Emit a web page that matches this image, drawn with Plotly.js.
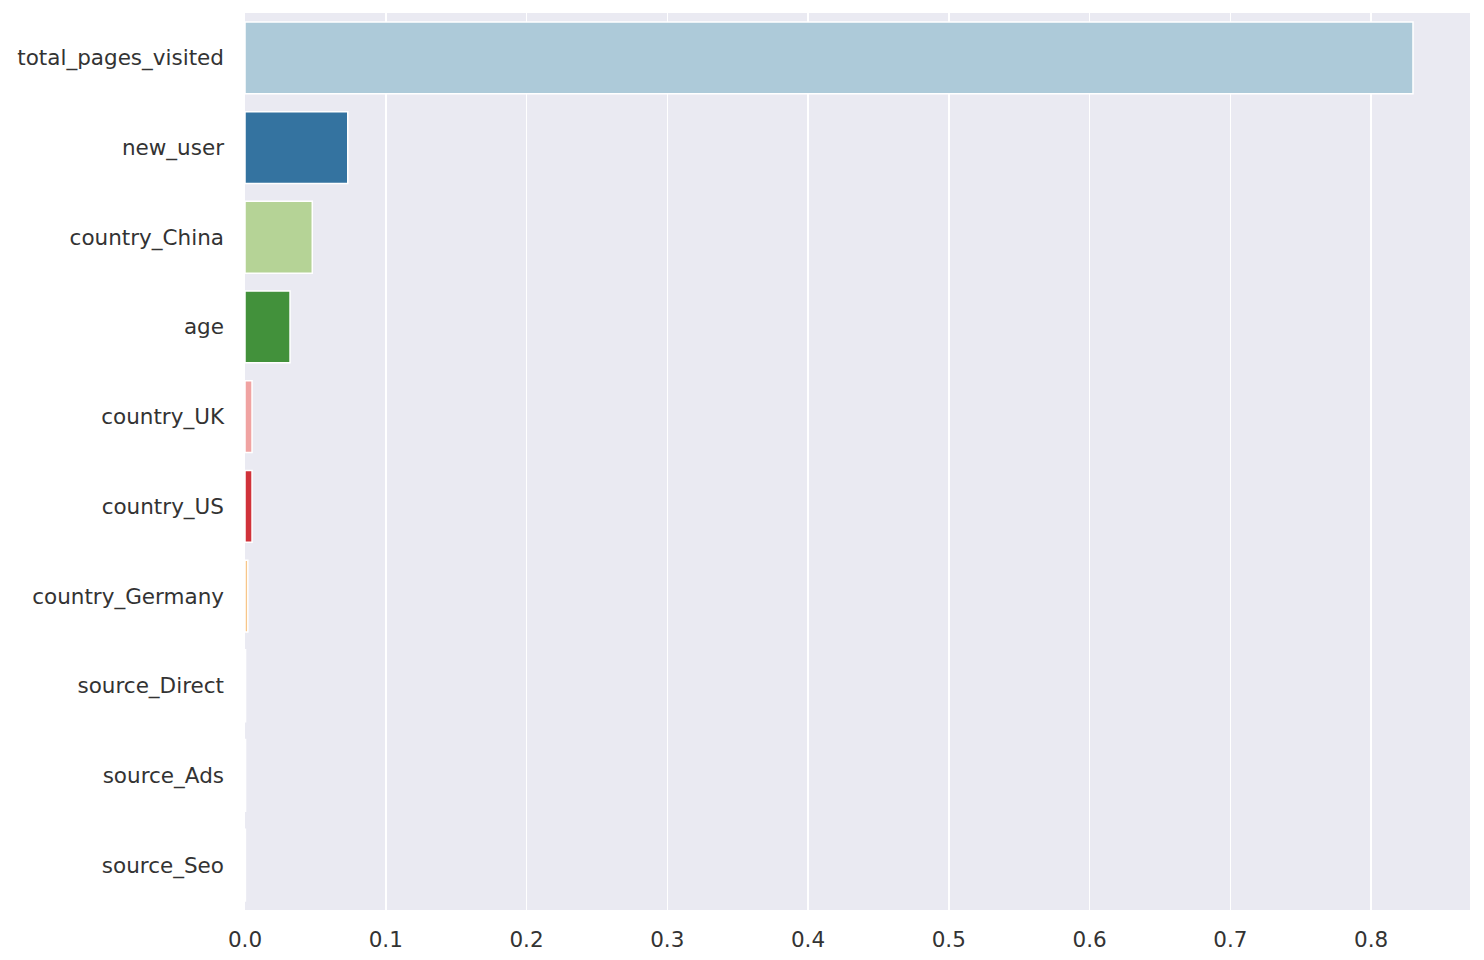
<!DOCTYPE html>
<html>
<head>
<meta charset="utf-8">
<script src="https://cdn.plot.ly/plotly-3.0.1.min.js"></script>
<style>
  html, body { margin: 0; padding: 0; background: #fff; }
  #graph { width: 1484px; height: 960px; }
</style>
</head>
<body>
<div id="graph"></div>
<script>
// feature importances, top to bottom
const features = [
    "total_pages_visited", "new_user", "country_China", "age", "country_UK",
    "country_US", "country_Germany", "source_Direct", "source_Ads", "source_Seo"
];
const importance = [0.8298, 0.0730, 0.0478, 0.0320, 0.0050, 0.0050, 0.0020, 0.0004, 0.0004, 0.0003];
// seaborn "Paired", desaturated
const barColors = [
    "#adcad9", "#3473a0", "#b5d396", "#42913b", "#f0a3a2",
    "#d0323a", "#f7c68a", "#ef8a2c", "#c9b7d3", "#6e4c91"
];
const xTicks = [0, 0.1, 0.2, 0.3, 0.4, 0.5, 0.6, 0.7, 0.8];

document.addEventListener("DOMContentLoaded", function () {
    const bars = {
        type: "bar",
        orientation: "h",
        x: importance,
        y: features,
        width: 0.8,
        marker: {
            color: barColors,
            line: { color: "#ffffff", width: 1.5 }
        },
        hoverinfo: "x+y"
    };

    const layout = {
        width: 1484,
        height: 960,
        margin: { l: 245, r: 14, t: 13, b: 50 },
        paper_bgcolor: "#ffffff",
        plot_bgcolor: "#eaeaf2",
        showlegend: false,
        bargap: 0.2,
        font: { family: "DejaVu Sans", size: 21.5, color: "#333333" },
        xaxis: {
            range: [0, 0.8703],
            tickvals: xTicks,
            ticktext: xTicks.map(v => v.toFixed(1)),
            showgrid: true,
            gridcolor: "#ffffff",
            gridwidth: 1.5,
            zeroline: false,
            showline: false,
            ticks: "",
            ticklabelstandoff: 14
        },
        yaxis: {
            categoryorder: "array",
            categoryarray: features,
            autorange: "reversed",
            showgrid: false,
            zeroline: false,
            showline: false,
            ticks: "",
            ticklabelstandoff: 20
        }
    };

    Plotly.newPlot("graph", [bars], layout, { displayModeBar: false, staticPlot: true });
});
</script>
</body>
</html>
